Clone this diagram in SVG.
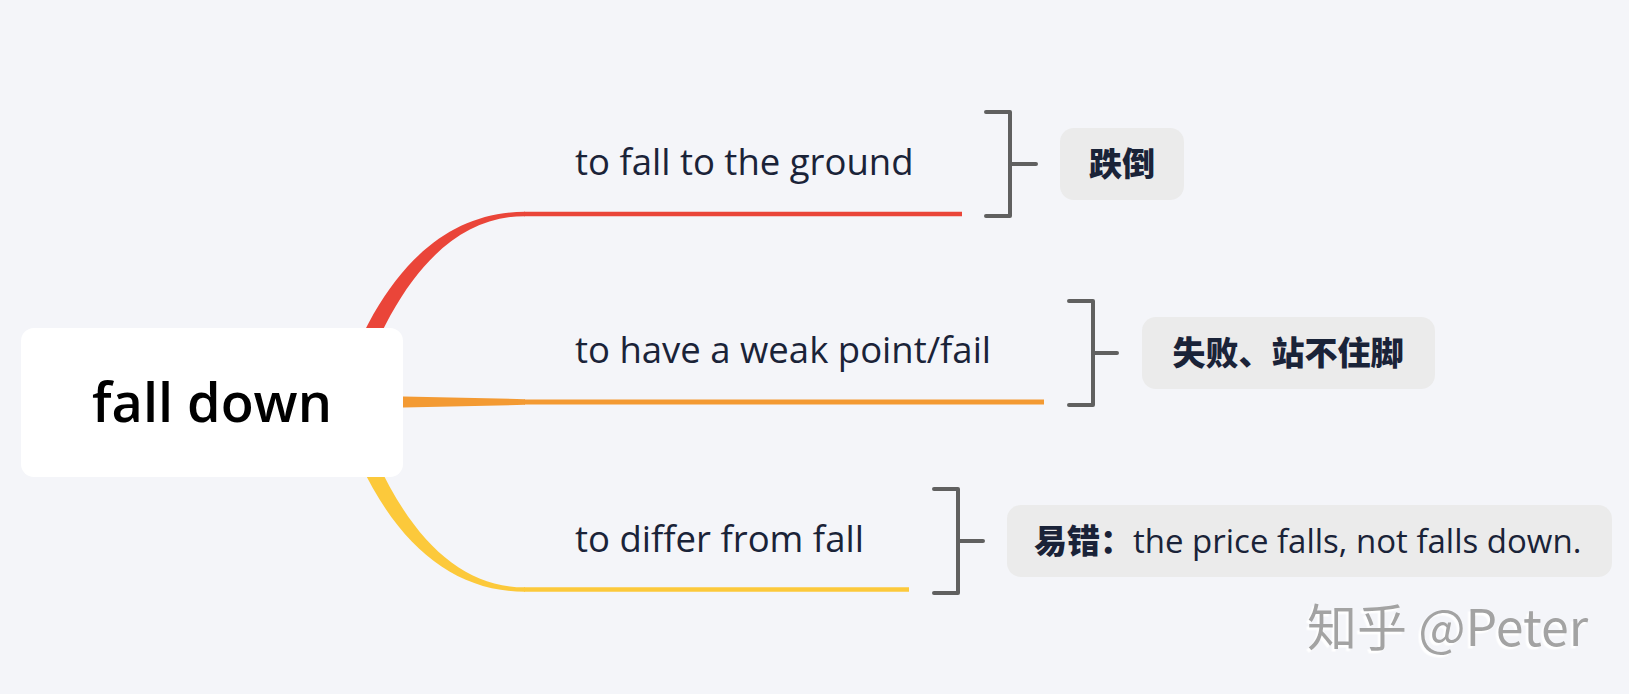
<svg xmlns="http://www.w3.org/2000/svg" width="1629" height="694" viewBox="0 0 1629 694">
<style>
.branch{font-family:"Open Sans","Liberation Sans",sans-serif;font-size:36.5px;fill:#1a2338}
.lbl{font-family:"Open Sans","Noto Sans CJK SC",sans-serif;font-size:33px;fill:#1a2338}
.cjk{font-family:"Noto Sans CJK SC",sans-serif;font-weight:900}
.box{fill:#ebebeb}
.brk{fill:none;stroke:#606060;stroke-width:4;stroke-linecap:round;stroke-linejoin:round}
.ln{fill:none}
</style>
<defs>
<filter id="wm" x="-10%" y="-20%" width="120%" height="140%">
<feDropShadow dx="-2.5" dy="2.5" stdDeviation="0.4" flood-color="#ffffff" flood-opacity="1"/>
</filter>
</defs>
<rect width="1629" height="694" fill="#f4f5f9"/>
<g id="connectors">
<path d="M337,399 C377,276 441,211.8 525,211.8 L525,216.2 C449,216.2 393,284 353,403 Z" fill="#ea4539"/>
<path class="ln" d="M524,214 H962" stroke="#ea4539" stroke-width="4.5"/>
<path d="M380,396 L525,399.2 L525,404.8 L380,408 Z" fill="#f39a33"/>
<path class="ln" d="M524,402 H1044" stroke="#f39a33" stroke-width="5"/>
<path d="M337,404.5 C377,527.5 441,591.7 525,591.7 L525,587.3 C449,587.3 393,519.5 353,400.5 Z" fill="#fcc93b"/>
<path class="ln" d="M524,589.5 H909" stroke="#fcc93b" stroke-width="4.5"/>
<path class="brk" d="M986,112 H1010 V216 H986 M1010,164 H1036"/>
<path class="brk" d="M1069,301 H1093 V405 H1069 M1093,353 H1117"/>
<path class="brk" d="M934,489 H958 V593 H934 M958,541 H983"/>
</g>
<g id="root">
<rect x="21" y="328" width="382" height="149" rx="13" fill="#ffffff"/>
<text x="212" y="422" text-anchor="middle" font-family="Open Sans, Liberation Sans, sans-serif" font-size="54" font-weight="600" fill="#000000">fall down</text>
</g>
<g id="b1">
<text class="branch" x="575" y="175">to fall to the ground</text>
</g>
<g id="b2">
<text class="branch" x="575" y="363">to have a weak point/fail</text>
</g>
<g id="b3">
<text class="branch" x="575" y="552">to differ from fall</text>
</g>
<g id="l1">
<rect class="box" x="1060" y="128" width="124" height="72" rx="14"/>
<text class="lbl cjk" x="1122" y="175.5" text-anchor="middle">跌倒</text>
</g>
<g id="l2">
<rect class="box" x="1142" y="317" width="293" height="72" rx="14"/>
<text class="lbl cjk" x="1288" y="364.5" text-anchor="middle">失败、站不住脚</text>
</g>
<g id="l3">
<rect class="box" x="1007" y="505" width="605" height="72" rx="14"/>
<text class="lbl" x="1034" y="552.5"><tspan class="cjk">易错：</tspan><tspan>the price falls, not falls down.</tspan></text>
</g>
<text x="1307" y="646" font-family="Noto Sans CJK SC, sans-serif" font-size="50" fill="#a3a3a3" filter="url(#wm)">知乎 @Peter</text>
</svg>
